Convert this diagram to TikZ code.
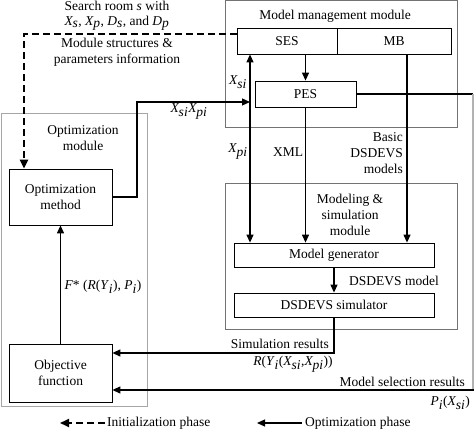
\documentclass[tikz,border=0pt]{standalone}
\usepackage{fontspec}
\setmainfont{Liberation Serif}
\usetikzlibrary{arrows.meta}
\newcommand\vX[1]{\textit{X}\kern-0.5pt$_{\textit{#1}}$}
\begin{document}
\begin{tikzpicture}[x=1pt,y=-1pt,
  every node/.style={font=\fontsize{13.5}{16}\selectfont, inner sep=0pt},
  box/.style={draw=black, line width=0.8pt, align=center},
  module/.style={draw=black!55, line width=1pt},
  conn/.style={line width=1.2pt, -{Triangle[length=8pt,width=7pt]}},
  plain/.style={line width=1.2pt},
  dashconn/.style={line width=2.3pt, dash pattern=on 7pt off 4pt, -{Triangle[length=9pt,width=8pt]}},
  lbl/.style={align=center}]
\useasboundingbox (0,0) rectangle (474,435);
% module frames
\node[module, minimum width=232pt, minimum height=127pt] (mmm) at (341,64.5) {};
\node[module, minimum width=232pt, minimum height=146pt] (msm) at (341,257) {};
\node[module, draw=black!35, minimum width=146pt, minimum height=293pt] (optm) at (74,260.5) {};
% inner boxes
\node[box, minimum width=100pt, minimum height=26pt] (SES) at (287,41) {SES};
\node[box, minimum width=114pt, minimum height=26pt] (MB) at (394,41) {MB};
\node[box, minimum width=101pt, minimum height=26pt] (PES) at (305.5,94) {PES};
\node[box, minimum width=200pt, minimum height=24pt] (MG) at (334,255) {Model generator};
\node[box, minimum width=200pt, minimum height=24pt] (DS) at (334,305) {DSDEVS simulator};
\node[box, minimum width=103pt, minimum height=56pt] (OM) at (60.5,197) {Optimization\\method};
\node[box, minimum width=103pt, minimum height=58pt] (OF) at (60.5,373) {Objective\\function};
% labels
\node[lbl] (tmmm) at (335,16) {Model management module};
\node[lbl] (tmsm) at (350,215) {Modeling \&\\simulation\\module};
\node[lbl] (topt) at (83,138.5) {Optimization\\module};
\node[lbl, font=\fontsize{13.5}{15}\selectfont] (tsr) at (117,16) {Search room \textit{s} with\\\vX{s}, \vX{p}, \textit{D}$_{\textit{s}}$, and \textit{D}$_{\textit{p}}$};
\node[lbl] (tmsp) at (117,52) {Module structures \&\\parameters information};
\node[lbl] (txx) at (189,112) {\vX{si}\vX{pi}};
\node[lbl] (txsi) at (238,82) {\vX{si}};
\node[lbl] (txpi) at (238,152) {\vX{pi}};
\node[lbl] (txml) at (288,152) {XML};
\node[lbl, align=right, anchor=east] (tbasic) at (403,153) {Basic\\DSDEVS\\models};
\node[lbl, anchor=west] (tdm) at (349,281) {DSDEVS model};
\node[lbl, anchor=east] (tsim) at (329,344) {Simulation results};
\node[lbl] (tR) at (293,364) {\textit{R}(\textit{Y}$_{\textit{i}}$(\vX{si},\vX{pi}))};
\node[lbl, anchor=east] (tmsr) at (465,382) {Model selection results};
\node[lbl, anchor=east] (tP) at (470,403) {\textit{P}$_{\textit{i}}$(\vX{si})};
\node[lbl] (tF) at (103,287) {\textit{F}* (\textit{R}(\textit{Y}$_{\textit{i}}$), \textit{P}$_{\textit{i}}$)};
% coordinates
\coordinate (dk) at (24,34);
\coordinate (c1) at (137,102);
\coordinate (vx) at (250,0);
\coordinate (mx) at (407,0);
\coordinate (cr1) at (473,94);
\coordinate (cr2) at (473,390);
% connectors
\draw[dashconn] ([yshift=7pt]SES.west) -- (dk) -- (dk |- OM.north);
\draw[conn] (OM.east) -| (c1) -- (c1 -| vx);
\draw[line width=1.2pt, {Triangle[length=8pt,width=7pt]}-{Triangle[length=8pt,width=7pt]}] (vx |- SES.south) -- (vx |- MG.north);
\draw[conn] (PES.north |- SES.south) -- (PES.north);
\draw[conn] (PES.south) -- (PES.south |- MG.north);
\draw[conn] (mx |- MB.south) -- (mx |- MG.north);
\draw[conn] (MG.south) -- (DS.north);
\draw[conn] (DS.south) |- ([yshift=20pt]OF.east);
\draw[plain] (PES.east) -- (cr1);
\draw[line width=1.2pt, black!30] (cr1) -- (cr2);
\draw[conn] ([xshift=1pt]cr2) -- ([yshift=-17pt]OF.east);
\draw[conn] (OF.north) -- (OM.south);
% legend
\coordinate (la1) at (105,423);
\coordinate (la2) at (60,423);
\coordinate (lb1) at (302,423);
\coordinate (lb2) at (257,423);
\draw[dashconn, line width=2pt] (la1) -- (la2);
\node[anchor=west] (tinit) at (107,423) {Initialization phase};
\draw[conn] (lb1) -- (lb2);
\node[anchor=west] (topt2) at (305,423) {Optimization phase};
\end{tikzpicture}
\end{document}
